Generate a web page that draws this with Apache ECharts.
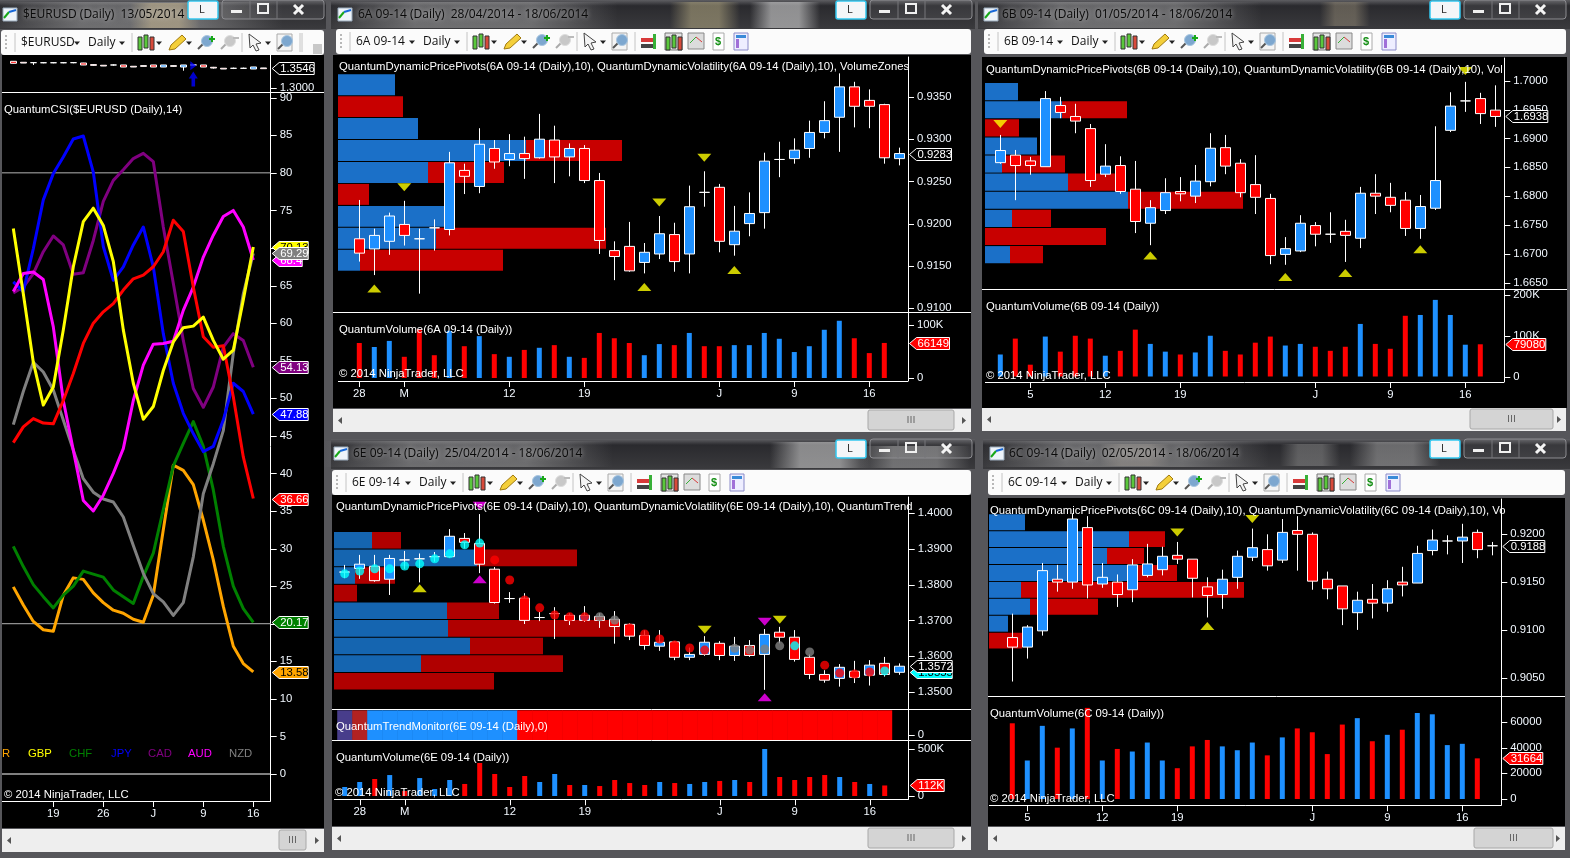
<!DOCTYPE html>
<html>
<head>
<meta charset="utf-8">
<title>NinjaTrader workspace</title>
<script src="https://cdn.jsdelivr.net/npm/echarts@6/dist/echarts.min.js"></script>
<style>
html,body{margin:0;padding:0;background:#000;overflow:hidden}
#main{width:1570px;height:858px}
</style>
</head>
<body>
<div id="main"></div>
<script>
// --- data. candles are [open, close, low, high], volumes in thousands ---
var csiTicks = [0,5,10,15,20,25,30,35,40,45,50,55,60,65,70,75,80,85,90];
var csiUSD = [44.1,46.2,47.3,46.7,46.6,49.7,53.3,57.3,60.0,61.5,62.6,64.4,65.9,66.4,67.5,69.5,73.7,72.2,64.8,58.2,56.8,57.0,50.2,42.2,36.66];
var csiEUR = [24.9,22.5,20.3,19.2,19.0,23.8,26.1,25.9,24.1,22.8,21.8,21.4,20.6,20.2,23.8,32.5,41.1,40.4,38.5,33.8,28.5,22.3,17.0,14.7,13.58];
var csiGBP = [72.6,63.9,54.8,49.1,51.5,59.1,67.5,73.5,75.3,73.0,68.2,59.1,52.0,47.2,48.9,53.7,57.5,59.4,59.6,60.8,57.7,55.2,56.4,63.1,70.13];
var csiCHF = [30.3,27.6,25.2,23.6,22.1,23.8,25.0,27.0,26.6,26.2,24.5,23.6,22.7,26.3,29.4,35.2,41.0,44.0,46.9,43.6,37.8,30.3,25.0,22.0,20.17];
var csiJPY = [65.5,64.2,69.9,76.4,79.9,82.1,84.5,84.9,80.1,70.2,65.7,67.5,70.4,72.8,67.5,58.6,52.0,48.0,45.3,42.9,43.6,47.1,52.0,50.9,47.88];
var csiCAD = [64.0,64.8,66.6,69.5,71.6,70.4,66.5,66.7,71.0,76.2,79.0,80.4,81.9,82.6,81.5,72.8,65.3,57.7,51.3,48.8,51.5,56.8,58.6,57.7,54.13];
var csiAUD = [64.2,66.6,66.8,65.8,59.5,49.7,43.1,36.4,35.0,37.1,40.0,43.3,49.7,54.4,57.2,57.3,57.6,61.7,64.8,68.8,71.7,74.2,75.0,72.8,68.4];
var csiNZD = [46.5,50.9,54.8,53.5,51.1,47.1,43.1,39.3,37.5,36.6,36.2,34.2,30.4,26.7,24.0,22.9,21.1,22.8,28.9,37.3,41.3,45.7,56.0,63.9,69.29];
var csiRefLines = [80,20];

var eurCandles = [[1.3740,1.3685,1.3680,1.3745],[1.3712,1.3692,1.3690,1.3714],[1.3702,1.3702,1.3640,1.3708],[1.3700,1.3700,1.3685,1.3712],[1.3700,1.3700,1.3685,1.3712],[1.3700,1.3700,1.3685,1.3716],[1.3702,1.3702,1.3685,1.3716],[1.3693,1.3638,1.3635,1.3696],[1.3648,1.3628,1.3615,1.3660],[1.3630,1.3610,1.3608,1.3632],[1.3638,1.3638,1.3620,1.3655],[1.3638,1.3582,1.3580,1.3640],[1.3602,1.3582,1.3580,1.3604],[1.3620,1.3600,1.3598,1.3622],[1.3638,1.3582,1.3580,1.3640],[1.3582,1.3638,1.3580,1.3640],[1.3620,1.3600,1.3590,1.3625],[1.3582,1.3638,1.3480,1.3640],[1.3638,1.3638,1.3625,1.3650],[1.3638,1.3582,1.3580,1.3640],[1.3574,1.3554,1.3540,1.3585],[1.3547,1.3527,1.3525,1.3549],[1.3546,1.3546,1.3525,1.3565],[1.3546,1.3546,1.3530,1.3565],[1.3527,1.3583,1.3525,1.3585],[1.3556,1.3536,1.3534,1.3558]];
var eurTicks = [1.30];
var eurTagValue = 1.3546;

var a6Candles = [[0.9182,0.9165,0.9155,0.9228],[0.9170,0.9186,0.9139,0.9194],[0.9179,0.9209,0.9163,0.9213],[0.9199,0.9186,0.9174,0.9227],[0.9182,0.9182,0.9117,0.9194],[0.9195,0.9195,0.9168,0.9205],[0.9193,0.9272,0.9186,0.9285],[0.9263,0.9256,0.9235,0.9271],[0.9244,0.9294,0.9236,0.9313],[0.9289,0.9273,0.9265,0.9299],[0.9276,0.9283,0.9268,0.9306],[0.9283,0.9277,0.9253,0.9303],[0.9278,0.9300,0.9277,0.9330],[0.9299,0.9279,0.9248,0.9316],[0.9279,0.9289,0.9256,0.9295],[0.9289,0.9251,0.9248,0.9293],[0.9251,0.9180,0.9164,0.9260],[0.9168,0.9161,0.9133,0.9179],[0.9173,0.9144,0.9143,0.9202],[0.9154,0.9166,0.9141,0.9177],[0.9164,0.9188,0.9158,0.9209],[0.9187,0.9155,0.9143,0.9201],[0.9164,0.9220,0.9141,0.9245],[0.9237,0.9237,0.9220,0.9262],[0.9243,0.9179,0.9166,0.9247],[0.9175,0.9191,0.9162,0.9221],[0.9200,0.9212,0.9185,0.9237],[0.9213,0.9274,0.9194,0.9284],[0.9276,0.9276,0.9255,0.9297],[0.9277,0.9287,0.9271,0.9301],[0.9289,0.9308,0.9278,0.9322],[0.9308,0.9322,0.9301,0.9345],[0.9326,0.9362,0.9285,0.9378],[0.9362,0.9339,0.9314,0.9368],[0.9346,0.9339,0.9313,0.9359],[0.9341,0.9278,0.9271,0.9342],[0.9277,0.9283,0.9269,0.9290]];
var a6Volume = [66,58.5,70,40,92,43,89,60,79,45,40,53,57,62,40,38,85,75,66,43,64,62,85,60,60,62,62,85,74,49,60,91,108,75,47,66.149];
var a6VolDirs = 'rbbrrrbrbr' + 'brbrbrrrrb' + 'brbrrbbbbb' + 'bbbrrr';
var a6XTicks = {0:'28',3:'M',10:'12',15:'19',24:'J',29:'9',34:'16'};
var a6PriceTicks = [0.91,0.915,0.92,0.925,0.93,0.935];
var a6VolTicks = [0,100];
var a6ZoneBlue = [57,0,80,188,90,0,107,98,22];
var a6ZoneRed = [0,65,0,96,76,31,0,170,143];
var a6PivotsUp = [[1,0.9123],[19,0.9125],[25,0.9145]];
var a6PivotsDown = [[3,0.9243],[20,0.9225],[23,0.9278]];

var b6Candles = [[1.6858,1.6879,1.6856,1.6906],[1.6871,1.6853,1.6793,1.6880],[1.6861,1.6853,1.6837,1.6868],[1.6851,1.6969,1.6851,1.6982],[1.6957,1.6945,1.6935,1.6972],[1.6938,1.6930,1.6909,1.6960],[1.6917,1.6827,1.6816,1.6925],[1.6838,1.6852,1.6833,1.6890],[1.6853,1.6808,1.6804,1.6869],[1.6812,1.6756,1.6736,1.6861],[1.6753,1.6780,1.6715,1.6793],[1.6775,1.6806,1.6769,1.6831],[1.6808,1.6804,1.6791,1.6833],[1.6800,1.6826,1.6788,1.6854],[1.6825,1.6883,1.6817,1.6909],[1.6884,1.6852,1.6838,1.6906],[1.6857,1.6806,1.6798,1.6864],[1.6820,1.6798,1.6769,1.6871],[1.6796,1.6697,1.6682,1.6804],[1.6699,1.6709,1.6681,1.6729],[1.6705,1.6753,1.6703,1.6767],[1.6749,1.6734,1.6713,1.6755],[1.6734,1.6734,1.6719,1.6772],[1.6739,1.6732,1.6686,1.6759],[1.6727,1.6805,1.6710,1.6816],[1.6805,1.6800,1.6769,1.6838],[1.6798,1.6784,1.6772,1.6823],[1.6793,1.6744,1.6731,1.6807],[1.6744,1.6782,1.6726,1.6802],[1.6779,1.6827,1.6776,1.6921],[1.6914,1.6956,1.6911,1.6980],[1.6965,1.6965,1.6946,1.6998],[1.6969,1.6943,1.6925,1.6979],[1.6949,1.6938,1.6920,1.6992]];
var b6Volume = [54,93,29,98,61,100,93,51,63,115,80,61,54,59,100,63,54,83,98,76,80,73,63,73,129,80,68,149,151,188,151,78,79.08];
var b6VolDirs = 'brrbrrrbrr' + 'bbrbbrrrrb' + 'brrrbrrrbb' + 'bbr';
var b6XTicks = {2:'5',7:'12',12:'19',21:'J',26:'9',31:'16'};
var b6PriceTicks = [1.665,1.67,1.675,1.68,1.685,1.69,1.695,1.70];
var b6VolTicks = [0,100,200];
var b6ZoneBlue = [33,77,0,52,17,83,143,27,0,25];
var b6ZoneRed = [0,65,34,0,63,52,115,39,121,33];
var b6PivotsUp = [[10,1.6697],[19,1.6660],[23,1.6667],[28,1.6708]];
var b6PivotsDown = [[0,1.6925],[31,1.7017]];

var e6Candles = [[1.3835,1.3835,1.3818,1.3855],[1.3845,1.3857,1.3816,1.3883],[1.3851,1.3811,1.3808,1.3883],[1.3815,1.3873,1.3771,1.3883],[1.3869,1.3869,1.3844,1.3894],[1.3872,1.3872,1.3806,1.3887],[1.3878,1.3878,1.3864,1.3891],[1.3878,1.3935,1.3875,1.3955],[1.3929,1.3918,1.3901,1.3944],[1.3915,1.3857,1.3832,1.3997],[1.3843,1.3750,1.3747,1.3849],[1.3761,1.3761,1.3749,1.3779],[1.3762,1.3700,1.3690,1.3776],[1.3708,1.3708,1.3698,1.3724],[1.3719,1.3719,1.3648,1.3737],[1.3714,1.3700,1.3687,1.3720],[1.3700,1.3714,1.3696,1.3740],[1.3711,1.3700,1.3679,1.3720],[1.3703,1.3683,1.3635,1.3726],[1.3689,1.3656,1.3645,1.3692],[1.3658,1.3630,1.3618,1.3672],[1.3628,1.3639,1.3615,1.3673],[1.3640,1.3597,1.3589,1.3642],[1.3597,1.3605,1.3589,1.3624],[1.3605,1.3639,1.3601,1.3656],[1.3636,1.3602,1.3589,1.3642],[1.3602,1.3628,1.3587,1.3654],[1.3630,1.3602,1.3598,1.3645],[1.3605,1.3661,1.3506,1.3676],[1.3667,1.3653,1.3636,1.3682],[1.3653,1.3591,1.3585,1.3673],[1.3597,1.3549,1.3536,1.3605],[1.3549,1.3533,1.3526,1.3561],[1.3538,1.3569,1.3515,1.3578],[1.3558,1.3541,1.3525,1.3587],[1.3547,1.3575,1.3518,1.3589],[1.3580,1.3549,1.3543,1.3598],[1.3555,1.3572,1.3548,1.3580]];
var e6Volume = [96,149,181,223,53,191,74,170,128,351,234,96,213,149,234,117,117,106,170,138,117,149,138,128,149,160,170,149,500,202,170,202,223,202,149,128,112];
var e6VolDirs = 'bbrbrbbbrr' + 'rrrbbrbrrr' + 'rbrbbrbrbr' + 'rrrbrbr';
var e6XTicks = {1:'28',4:'M',11:'12',16:'19',25:'J',30:'9',35:'16'};
var e6PriceTicks = [1.35,1.36,1.37,1.38,1.39,1.40];
var e6VolTicks = [0,500];
var e6ZoneBlue = [38,143,21,0,113,114,136,87,0];
var e6ZoneRed = [29,100,40,23,52,172,73,142,160];
var e6PivotsUp = [[5,1.3790]];
var e6PivotsDown = [[24,1.3674],[29,1.3702]];
var e6SwingUp = [[9,1.3815],[28,1.3485]];
var e6SwingDown = [[9,1.4020],[28,1.3696]];
var e6DotsCyan = [[0,1.3830],[1,1.3838],[2,1.3844],[3,1.3844],[4,1.3852],[5,1.3858],[6,1.3872],[7,1.3886],[8,1.3911],[9,1.3916],[30,1.3629],[36,1.3559]];
var e6DotsRed = [[10,1.3869],[11,1.3813],[12,1.3757],[13,1.3735],[14,1.3715],[15,1.3710],[16,1.3710],[19,1.3679],[20,1.3662],[21,1.3648],[22,1.3631],[23,1.3623],[24,1.3617],[32,1.3575],[33,1.3553],[34,1.3550],[35,1.3556]];
var e6DotsGray = [[17,1.3710],[18,1.3701],[26,1.3622],[27,1.3617],[28,1.3620],[29,1.3629],[31,1.3612]];
var e6Trend = 'pfbbbbbbbbbbrrrrrrrrrrrrrrrrrrrrrrrrr';

var c6Candles = [[0.9092,0.9082,0.9046,0.9117],[0.9082,0.9103,0.9070,0.9105],[0.9099,0.9162,0.9094,0.9170],[0.9153,0.9150,0.9140,0.9168],[0.9150,0.9216,0.9143,0.9222],[0.9207,0.9147,0.9133,0.9219],[0.9148,0.9155,0.9144,0.9170],[0.9150,0.9137,0.9124,0.9158],[0.9142,0.9168,0.9129,0.9174],[0.9157,0.9169,0.9155,0.9190],[0.9163,0.9177,0.9157,0.9187],[0.9178,0.9174,0.9169,0.9192],[0.9174,0.9154,0.9134,0.9174],[0.9145,0.9136,0.9113,0.9155],[0.9137,0.9153,0.9122,0.9163],[0.9155,0.9177,0.9143,0.9183],[0.9176,0.9186,0.9172,0.9206],[0.9184,0.9167,0.9162,0.9200],[0.9173,0.9202,0.9170,0.9216],[0.9204,0.9200,0.9162,0.9219],[0.9200,0.9151,0.9142,0.9202],[0.9153,0.9143,0.9132,0.9161],[0.9146,0.9122,0.9105,0.9146],[0.9118,0.9131,0.9100,0.9140],[0.9132,0.9128,0.9112,0.9148],[0.9128,0.9143,0.9119,0.9152],[0.9150,0.9147,0.9135,0.9166],[0.9149,0.9180,0.9149,0.9188],[0.9183,0.9194,0.9178,0.9205],[0.9193,0.9193,0.9179,0.9199],[0.9193,0.9197,0.9170,0.9211],[0.9202,0.9184,0.9175,0.9205],[0.9188,0.9188,0.9178,0.9192]];
var c6Volume = [59,30,57,40,55,71,30,39,37,44,30,24,41,46,41,38,44,34,48,55,52,35,58,63,45,50,54,67,66,42,43,31.664];
var c6VolDirs = 'rbbrbrbrbb' + 'brrrbbbrbr' + 'rrrbrbrbbb' + 'br';
var c6XTicks = {1:'5',6:'12',11:'19',20:'J',25:'9',30:'16'};
var c6PriceTicks = [0.905,0.91,0.915,0.92];
var c6VolTicks = [0,20,40,60];
var c6ZoneBlue = [36,140,118,140,32,41,19,0];
var c6ZoneRed = [0,36,37,48,223,68,0,33];
var c6PivotsUp = [[13,0.9104]];
var c6PivotsDown = [[11,0.9202],[16,0.9216]];

var FONT = '"Liberation Sans", Arial, sans-serif';
var UI_FONT = '"Open Sans", "Noto Sans", sans-serif';
var SIZE = 11.3;
var TEXT = '#f2f8ff';
var DIR_COLORS = {r:'#ff0000', b:'#1e90ff'};
var BAND = 15;

var grids = [], xAxes = [], yAxes = [], series = [], chrome = [], labels = [];

// ---------- axes ----------
function addGrid(left, top, width, height) {
	grids.push({left:left, top:top, width:width, height:height, show:false});
	return grids.length - 1;
}
function cats(n) {
	var out = [];
	for (var i = 0; i < n; i++) out.push(String(i));
	return out;
}
function catAxis(g, n, ticks) {
	var has = function(i) { return !!ticks && ticks[i] !== undefined; };
	xAxes.push({
		type:'category', gridIndex:g, data:cats(n), axisLine:{show:false}, axisTick:{show:false},
		axisLabel:{show:!!ticks, interval:has, margin:7, color:TEXT, fontSize:SIZE, fontFamily:FONT,
			formatter:function(v, i) { return ticks ? ticks[i] : ''; }},
		splitLine:{show:false}
	});
	if (ticks) xTickSeries(g, Object.keys(ticks).map(Number));
}
function valAxis(g, range, ticks, fmt, offset, axisX) {
	yAxes.push({
		type:'value', gridIndex:g, position:'right', offset:offset || 0, min:range.min, max:range.max,
		axisLine:{show:true, onZero:false, lineStyle:{color:'#fff', width:1}}, axisTick:{show:false},
		axisLabel:{show:!!ticks, customValues:ticks || [], margin:9, padding:[2,0,0,0], color:TEXT, fontSize:SIZE, fontFamily:FONT, formatter:fmt},
		splitLine:{show:false}
	});
	if (ticks) yTickSeries(g, ticks, axisX);
}
// tick marks go through the axis scales as small custom marks
function yTickSeries(g, ticks, axisX) {
	series.push({
		type:'custom', xAxisIndex:g, yAxisIndex:g, z:6, silent:true, clip:false,
		data:ticks.map(function(v) { return [0, v]; }), encode:{x:0, y:1},
		renderItem:function(params, api) {
			var y = Math.round(api.coord([0, api.value(1)])[1]) + 0.5;
			return {type:'line', shape:{x1:axisX, y1:y, x2:axisX + 6, y2:y}, style:{stroke:'#fff', lineWidth:1}};
		}
	});
}
function xTickSeries(g, indexes) {
	series.push({
		type:'custom', xAxisIndex:g, yAxisIndex:g, z:6, silent:true, clip:false,
		data:indexes.map(function(i) { return [i, 0]; }), encode:{x:0, y:1},
		renderItem:function(params, api) {
			var x = Math.round(api.coord([api.value(0), 0])[0]) + 0.5, y = params.coordSys.y + params.coordSys.height;
			return {type:'line', shape:{x1:x, y1:y, x2:x, y2:y + 6}, style:{stroke:'#fff', lineWidth:1}};
		}
	});
}
function hiddenAxes(g, xMax, range) {
	xAxes.push({type:'value', gridIndex:g, show:false, min:0, max:xMax, splitLine:{show:false}});
	yAxes.push({type:'value', gridIndex:g, show:false, min:range.min, max:range.max, splitLine:{show:false}});
}
// value range of a plot from two ticks whose pixel rows were measured
function rangeFrom(hi, lo, top, bottom) {
	var per = (hi[0] - lo[0]) / (lo[1] - hi[1]);
	return {max:hi[0] + (hi[1] - top) * per, min:lo[0] - (bottom - lo[1]) * per};
}

// ---------- series ----------
function candleSeries(g, data, width) {
	series.push({
		type:'candlestick', xAxisIndex:g, yAxisIndex:g, z:3, barWidth:width, silent:true, data:data,
		itemStyle:{color:'#1e90ff', color0:'#ff0000', borderColor:'#fff', borderColor0:'#fff', borderColorDoji:'#fff', borderWidth:1}
	});
}
function volumeSeries(g, values, dirs) {
	series.push({
		type:'bar', xAxisIndex:g, yAxisIndex:g, z:2, barWidth:5, silent:true,
		data:values.map(function(v, i) { return {value:v, itemStyle:{color:DIR_COLORS[dirs.charAt(i)]}}; })
	});
}
function zoneSeries(g, blue, red, top, step, colors) {
	var rows = [];
	blue.forEach(function(b, i) {
		var hi = top - i * step, lo = hi - step;
		if (b > 0) rows.push([0, b, hi, lo, 0]);
		if (red[i] > 0) rows.push([b, b + red[i], hi, lo, 1]);
	});
	series.push({
		type:'custom', xAxisIndex:g, yAxisIndex:g, z:1, silent:true, data:rows, encode:{x:[0,1], y:[2,3]},
		renderItem:function(params, api) {
			var a = api.coord([api.value(0), api.value(2)]), b = api.coord([api.value(1), api.value(3)]);
			return {type:'rect', shape:{x:a[0], y:a[1], width:b[0] - a[0], height:b[1] - a[1] - 1},
				style:{fill:colors[api.value(4)]}};
		}
	});
}
function markerSeries(g, points, color, rotate, size) {
	series.push({
		type:'scatter', xAxisIndex:g, yAxisIndex:g, z:5, silent:true, symbol:'triangle', symbolRotate:rotate,
		symbolSize:size || [14,8], data:points, itemStyle:{color:color}
	});
}
function dotSeries(g, points, color) {
	series.push({
		type:'scatter', xAxisIndex:g, yAxisIndex:g, z:4, silent:true, symbol:'circle', symbolSize:9,
		data:points, itemStyle:{color:color}
	});
}
function tagSeries(g, tags, axisX) {
	series.push({
		type:'custom', xAxisIndex:g, yAxisIndex:g, z:20, silent:true, clip:false,
		data:tags.map(function(t, i) { return [0, t.v, i]; }), encode:{x:0, y:1},
		renderItem:function(params, api) {
			var t = tags[api.value(2)], y = Math.round(api.coord([0, api.value(1)])[1]) + 0.5, x = axisX + 1.5, h = 12, w = t.w || 42;
			return {type:'group', children:[
				{type:'polygon', shape:{points:[[x,y],[x+7,y-h/2],[x+w,y-h/2],[x+w,y+h/2],[x+7,y+h/2]]},
					style:{fill:t.fill, stroke:'#fff', lineWidth:1}},
				{type:'text', style:{x:x + 8, y:y + 0.5, text:t.t, fill:t.color || '#fff', font:SIZE + 'px ' + FONT, verticalAlign:'middle'}}
			]};
		}
	});
}
function refLine(g, value, color) {
	series.push({
		type:'line', xAxisIndex:g, yAxisIndex:g, z:1, silent:true, symbol:'none', animation:false,
		data:[[0, value], [1, value]], lineStyle:{color:color, width:1}
	});
}
function csiLine(g, values, color) {
	series.push({
		type:'line', xAxisIndex:g, yAxisIndex:g, z:3, silent:true, symbol:'none', smooth:false,
		data:values, lineStyle:{color:color, width:3, join:'round'}
	});
}

// ---------- price panel with volume below ----------
function addPanel(p) {
	var width = p.n * BAND, off = p.axisX - (p.left + width);
	var price = rangeFrom(p.priceHi, p.priceLo, p.top, p.sep);
	var g = addGrid(p.left, p.top, width, p.sep - p.top);
	catAxis(g, p.n, null);
	valAxis(g, price, p.priceTicks, function(v) { return v.toFixed(4); }, off, p.axisX);
	candleSeries(g, p.candles, 10);
	tagSeries(g, p.priceTags, p.axisX);

	var z = addGrid(p.zoneLeft, p.top, p.axisX - p.zoneLeft, p.sep - p.top);
	hiddenAxes(z, p.axisX - p.zoneLeft, price);
	zoneSeries(z, p.zoneBlue, p.zoneRed, p.zoneTop, p.zoneStep, p.zoneColors);

	(p.up || []).forEach(function(m) { markerSeries(g, m[0], m[1], 0); });
	(p.down || []).forEach(function(m) { markerSeries(g, m[0], m[1], 180); });
	(p.dots || []).forEach(function(d) { dotSeries(g, d[0], d[1]); });

	var volTop = p.volTop || p.sep;
	var v = addGrid(p.left, volTop, width, p.bottom - volTop);
	catAxis(v, p.n, p.xTicks);
	valAxis(v, rangeFrom(p.volHi, p.volLo, volTop, p.bottom), p.volTicks, p.volFmt, off, p.axisX);
	volumeSeries(v, p.volume, p.volDirs);
	tagSeries(v, p.volTags, p.axisX);
	return {price:g, width:width, off:off};
}

// ---------- window chrome ----------
function rect(x, y, w, h, fill, extra) {
	var shape = {x:x, y:y, width:w, height:h};
	if (extra && extra.r) shape.r = extra.r;
	chrome.push({type:'rect', z:0, silent:true, shape:shape,
		style:{fill:fill, stroke:extra && extra.stroke, lineWidth:extra && extra.lw || 1}});
}
function seg(x1, y1, x2, y2, color, lw) {
	chrome.push({type:'line', z:0, silent:true, shape:{x1:x1, y1:y1, x2:x2, y2:y2}, style:{stroke:color, lineWidth:lw || 1}});
}
function poly(points, fill, stroke) {
	chrome.push({type:'polygon', z:0, silent:true, shape:{points:points}, style:{fill:fill, stroke:stroke, lineWidth:1}});
}
function txt(x, y, s, color, font, extra) {
	var style = {x:x, y:y, text:s, fill:color, font:font, verticalAlign:'middle'};
	for (var k in (extra || {})) style[k] = extra[k];
	chrome.push({type:'text', z:0, silent:true, style:style});
}
function label(x, y, s, color) {
	labels.push({type:'text', z:50, silent:true, style:{x:x, y:y, text:s, fill:color || '#fff', font:SIZE + 'px ' + FONT, verticalAlign:'middle'}});
}
function glass() {
	return new echarts.graphic.LinearGradient(0, 0, 0, 1, [{offset:0, color:'#5e5e62'}, {offset:0.2, color:'#2a2a2e'}, {offset:1, color:'#3a3a3d'}]);
}
// soft reflection of the desktop behind the glass
function spot(x, y, w, h, rgb, alpha) {
	var c = function(a) { return 'rgba(' + rgb + ',' + a + ')'; };
	rect(x, y, w, h, new echarts.graphic.LinearGradient(0, 0, 1, 0, [{offset:0, color:c(0)}, {offset:0.3, color:c(alpha)}, {offset:0.7, color:c(alpha)}, {offset:1, color:c(0)}]));
}
function caret(x, y) { poly([[x-3,y-1.5],[x+3,y-1.5],[x,y+2]], '#222'); }
function magnifier(x, y, plus, dim) {
	var c = dim ? '#c8c8c8' : '#7da7cf';
	seg(x+2, y+14, x+7, y+9, dim ? '#aaa' : '#555', 2);
	chrome.push({type:'circle', z:0, silent:true, shape:{cx:x+11, cy:y+6, r:5.5}, style:{fill:c, stroke:dim ? '#ddd' : '#a9c6e0'}});
	if (plus) { seg(x+16, y+1, x+16, y+7, '#18a818', 2); seg(x+13, y+4, x+19, y+4, '#18a818', 2); }
	else if (dim) seg(x+14, y+3, x+20, y+3, '#bbb', 2);
}
function candleIcon(x, y, a, b, c) {
	rect(x, y+2, 4, 13, a, {stroke:'#333'}); rect(x+6, y, 4, 13, b, {stroke:'#333'}); rect(x+12, y+2, 4, 13, c, {stroke:'#333'});
}
function toolbar(x, y, w, name, extras) {
	rect(x, y, w, 25, '#fbfbfb', {r:3});
	for (var i = 0; i < 4; i++) rect(x+4, y+5+i*4, 2, 2, '#b8b8b8');
	seg(x+14, y+3, x+14, y+22, '#c4c4c4');
	txt(x+20, y+13, name, '#111', '12px ' + UI_FONT);
	caret(x+76, y+13);
	txt(x+87, y+13, 'Daily', '#111', '12px ' + UI_FONT);
	caret(x+121, y+13);
	seg(x+131, y+3, x+131, y+22, '#c4c4c4');
	candleIcon(x+137, y+5, '#5ac83c', '#5ac83c', '#d84a3a');
	caret(x+158, y+13);
	poly([[x+168,y+20],[x+170,y+15],[x+181,y+5],[x+185,y+9],[x+174,y+19]], '#f4cf3a', '#a07a10');
	caret(x+188, y+13);
	magnifier(x+195, y+5, true);
	magnifier(x+218, y+5, false, true);
	seg(x+241, y+3, x+241, y+22, '#c4c4c4');
	poly([[x+248,y+4],[x+260,y+13],[x+255,y+14],[x+258,y+20],[x+255,y+21],[x+252,y+15],[x+249,y+18]], '#f4f4f4', '#444');
	caret(x+267, y+13);
	rect(x+276, y+4, 15, 17, '#f4f4f4', {stroke:'#aaa'});
	magnifier(x+275, y+5, false);
	seg(x+299, y+3, x+299, y+22, '#c4c4c4');
	if (!extras) return;
	rect(x+305, y+9, 12, 4, '#d83a3a'); rect(x+305, y+15, 12, 4, '#444'); rect(x+317, y+5, 3, 15, '#38b038');
	rect(x+329, y+4, 17, 17, '#e4e4e4', {stroke:'#777'}); candleIcon(x+330, y+6, '#5ac83c', '#5ac83c', '#d84a3a');
	rect(x+352, y+4, 16, 16, '#dcdcdc', {stroke:'#888'}); seg(x+354, y+14, x+360, y+8, '#38b038'); seg(x+360, y+8, x+366, y+13, '#d83a3a');
	rect(x+377, y+4, 11, 17, '#fff', {stroke:'#aaa'}); txt(x+379, y+13, '$', '#189018', 'bold 11px ' + FONT);
	rect(x+398, y+4, 14, 17, '#eef', {stroke:'#8a8ac8'}); rect(x+400, y+6, 10, 3, '#3a8ad8'); rect(x+400, y+10, 3, 9, '#a070d8');
}
function titleBar(top, right, iconX, textX, title) {
	spot(textX - 30, top + 2, 290, 26, '190,190,190', 0.4);
	rect(iconX, top+8, 14, 13, '#eef4fa', {stroke:'#9ab'});
	seg(iconX+1, top+18, iconX+6, top+12, '#18a818', 2); seg(iconX+6, top+12, iconX+13, top+10, '#1868d8', 2);
	txt(textX, top+15, title, '#0a0a0a', '12px ' + UI_FONT, {textShadowColor:'rgba(255,255,255,0.6)', textShadowBlur:5});
	rect(right-136, top+1, 30, 18, '#f4f6f8', {stroke:'#33c8f0', r:2, lw:1.5});
	txt(right-125, top+10, 'L', '#222', '11px ' + UI_FONT);
	rect(right-102, top, 102, 19, 'rgba(255,255,255,0.07)', {stroke:'#8c8c90', r:3});
	seg(right-74, top, right-74, top+19, '#77777a'); seg(right-47, top, right-47, top+19, '#77777a');
	rect(right-93, top+10, 11, 3, '#f0f0f0');
	rect(right-66, top+4, 10, 9, 'transparent', {stroke:'#f0f0f0', lw:2});
	seg(right-30, top+5, right-21, top+14, '#f4f4f4', 3); seg(right-30, top+14, right-21, top+5, '#f4f4f4', 3);
}
function scrollBar(left, right, y, thumbLeft, thumbRight) {
	var mid = thumbLeft + (thumbRight - thumbLeft) / 2;
	rect(left, y, right - left, 23, '#eeeeee');
	poly([[left+5,y+11.5],[left+9,y+8],[left+9,y+15]], '#555');
	rect(thumbLeft, y+1, thumbRight - thumbLeft, 20, '#d4d4d4', {stroke:'#a8a8a8', r:2});
	seg(mid-3, y+7, mid-3, y+14, '#666');
	seg(mid, y+7, mid, y+14, '#666');
	seg(mid+3, y+7, mid+3, y+14, '#666');
	poly([[right-5,y+11.5],[right-9,y+8],[right-9,y+15]], '#555');
}

// ---------- build ----------
rect(0, 0, 326, 29, glass());
rect(331, 0, 644, 29, glass());
rect(978, 0, 592, 29, glass());
rect(331, 439, 644, 30, glass());
rect(983, 439, 587, 30, glass());
[[130,3,70,25,'190,165,110',0.6],[670,2,70,26,'170,160,125',0.6],[750,2,70,26,'210,210,210',0.6],[1320,2,50,24,'150,140,120',0.5],[770,442,100,26,'200,200,200',0.6],[860,446,110,22,'170,170,170',0.5],[1100,444,70,22,'130,120,110',0.5],[1280,444,60,22,'140,140,140',0.5],[1350,442,90,24,'170,170,170',0.5]].forEach(function(s) {
	spot(s[0], s[1], s[2], s[3], s[4], s[5]);
});
titleBar(0, 324, 3, 23, '$EURUSD (Daily)  13/05/2014 - ');
titleBar(0, 972, 338, 358, '6A 09-14 (Daily)  28/04/2014 - 18/06/2014');
titleBar(0, 1566, 984, 1002, '6B 09-14 (Daily)  01/05/2014 - 18/06/2014');
titleBar(439, 972, 334, 353, '6E 09-14 (Daily)  25/04/2014 - 18/06/2014');
titleBar(439, 1566, 990, 1009, '6C 09-14 (Daily)  02/05/2014 - 18/06/2014');

toolbar(1, 30, 323, '$EURUSD', false);
seg(302, 33, 302, 52, '#c4c4c4');
rect(313, 44, 9, 10, '#c8c8c8');
toolbar(336, 29, 635, '6A 09-14', true);
toolbar(984, 29, 582, '6B 09-14', true);
toolbar(332, 470, 639, '6E 09-14', true);
toolbar(988, 470, 577, '6C 09-14', true);

rect(2, 55, 322, 773, '#000');
rect(333, 55, 638, 353, '#000');
rect(982, 57, 585, 351, '#000');
rect(332, 495, 639, 331, '#000');
rect(988, 498, 577, 328, '#000');

scrollBar(2, 324, 829, 279, 306);
scrollBar(333, 971, 409, 868, 954);
scrollBar(982, 1566, 408, 1470, 1553);
scrollBar(332, 971, 827, 868, 954);
scrollBar(988, 1565, 827, 1474, 1553);

var blackTag = function(v, t) { return {v:v, t:t, fill:'#000'}; };
var redTag = function(v, t, w) { return {v:v, t:t, fill:'#ff0000', w:w}; };
var kFmt = function(v) { return v === 0 ? '0' : v + 'K'; };

// 6A
addPanel({
	left:351.8, n:37, axisX:908, top:57, sep:312, bottom:381,
	candles:a6Candles, priceHi:[0.935,97], priceLo:[0.91,308], priceTicks:a6PriceTicks,
	priceTags:[blackTag(0.9283,'0.9283')],
	zoneLeft:338, zoneBlue:a6ZoneBlue, zoneRed:a6ZoneRed, zoneTop:0.9377, zoneStep:0.0026, zoneColors:['#1b70c8','#c80000'],
	up:[[a6PivotsUp,'#ffff00']], down:[[a6PivotsDown,'#ffff00']],
	volume:a6Volume, volDirs:a6VolDirs, volHi:[100,325], volLo:[0,378], volTicks:a6VolTicks, volFmt:kFmt,
	volTags:[redTag(66.149,'66149',40)], xTicks:a6XTicks
});
seg(333, 312.5, 971, 312.5, '#fff'); seg(338, 381.5, 908, 381.5, '#fff');
label(339, 67, 'QuantumDynamicPricePivots(6A 09-14 (Daily),10), QuantumDynamicVolatility(6A 09-14 (Daily),10), VolumeZones');
label(339, 330, 'QuantumVolume(6A 09-14 (Daily))');
label(339, 374, '\u00a9 2014 NinjaTrader, LLC');

// 6B
addPanel({
	left:992.8, n:34, axisX:1504.3, top:58, sep:289.3, bottom:382,
	candles:b6Candles, priceHi:[1.70,80.7], priceLo:[1.665,282.7], priceTicks:b6PriceTicks,
	priceTags:[blackTag(1.6938,'1.6938')],
	zoneLeft:985, zoneBlue:b6ZoneBlue, zoneRed:b6ZoneRed, zoneTop:1.6996, zoneStep:0.00314, zoneColors:['#1b70c8','#c80000'],
	up:[[b6PivotsUp,'#ffff00']], down:[[b6PivotsDown,'#ffff00']],
	volume:b6Volume, volDirs:b6VolDirs, volHi:[200,295], volLo:[0,376.5], volTicks:b6VolTicks, volFmt:kFmt,
	volTags:[redTag(79.08,'79080',40)], xTicks:b6XTicks
});
seg(982, 289.5, 1567, 289.5, '#fff'); seg(985, 382.5, 1504, 382.5, '#fff');
label(986, 70, 'QuantumDynamicPricePivots(6B 09-14 (Daily),10), QuantumDynamicVolatility(6B 09-14 (Daily),10), Vol');
label(986, 307, 'QuantumVolume(6B 09-14 (Daily))');
label(986, 376, '\u00a9 2014 NinjaTrader, LLC');

// 6E, has the trend monitor strip between price and volume
var e = addPanel({
	left:337.2, n:38, axisX:908.7, top:497, sep:709.3, volTop:740, bottom:799.3,
	candles:e6Candles, priceHi:[1.40,513], priceLo:[1.35,692], priceTicks:e6PriceTicks,
	priceTags:[{v:1.3555,t:'1.3555',fill:'#00ffff',color:'#000'}, blackTag(1.3572,'1.3572')],
	zoneLeft:334, zoneBlue:e6ZoneBlue, zoneRed:e6ZoneRed, zoneTop:1.3947, zoneStep:0.00492, zoneColors:['#1565b0','#b00000'],
	up:[[e6PivotsUp,'#ffff00'],[e6SwingUp,'#ff00ff']],
	down:[[e6PivotsDown,'#ffff00'],[e6SwingDown,'#ff00ff']],
	dots:[[e6DotsCyan,'#00ffff'],[e6DotsRed,'#ff0000'],[e6DotsGray,'#808080']],
	volume:e6Volume, volDirs:e6VolDirs, volHi:[500,749], volLo:[0,796], volTicks:e6VolTicks, volFmt:kFmt,
	volTags:[redTag(112,'112K',34)], xTicks:e6XTicks
});
var trendColors = {p:'#483d8b', f:'#b22222', b:'#1e90ff', r:'#ff0000'};
var trendGrid = addGrid(337.2, 709.3, e.width, 30.7);
var trendRange = rangeFrom([1,710.3], [0,734.7], 709.3, 740);
catAxis(trendGrid, 38, null);
valAxis(trendGrid, trendRange, [0], function() { return '0'; }, e.off, 908.7);
series.push({
	type:'custom', xAxisIndex:trendGrid, yAxisIndex:trendGrid, z:2, silent:true,
	data:e6Trend.split('').map(function(s, i) { return [i, 1]; }), encode:{x:0, y:1},
	renderItem:function(params, api) {
		var i = api.value(0), w = api.size([1,0])[0], a = api.coord([i, 1]), b = api.coord([i, trendRange.min]);
		var last = i === e6Trend.length - 1;
		return {type:'rect', shape:{x:a[0] - w/2, y:a[1], width:w + (last ? 0 : 0.6), height:b[1] - a[1]}, style:{fill:trendColors[e6Trend.charAt(i)]}};
	}
});
seg(332, 709.5, 971, 709.5, '#fff'); seg(332, 740.5, 971, 740.5, '#fff'); seg(334, 799.5, 908.7, 799.5, '#fff');
label(336, 507, 'QuantumDynamicPricePivots(6E 09-14 (Daily),10), QuantumDynamicVolatility(6E 09-14 (Daily),10), QuantumTrend');
label(336, 727, 'QuantumTrendMonitor(6E 09-14 (Daily),0)');
label(336, 758, 'QuantumVolume(6E 09-14 (Daily))');
label(335, 793, '\u00a9 2014 NinjaTrader, LLC');

// 6C
addPanel({
	left:1004.8, n:33, axisX:1501.3, top:499, sep:696.3, bottom:805.3,
	candles:c6Candles, priceHi:[0.92,534.3], priceLo:[0.905,677.7], priceTicks:c6PriceTicks,
	priceTags:[blackTag(0.9188,'0.9188')],
	zoneLeft:989, zoneBlue:c6ZoneBlue, zoneRed:c6ZoneRed, zoneTop:0.9221, zoneStep:0.00177, zoneColors:['#1b70c8','#c80000'],
	up:[[c6PivotsUp,'#ffff00']], down:[[c6PivotsDown,'#ffff00']],
	volume:c6Volume, volDirs:c6VolDirs, volHi:[60,722], volLo:[0,799], volTicks:c6VolTicks,
	volFmt:function(v) { return String(v * 1000); },
	volTags:[redTag(31.664,'31664',40)], xTicks:c6XTicks
});
seg(988, 696.5, 1565, 696.5, '#fff'); seg(989, 805.5, 1501.3, 805.5, '#fff');
label(990, 511, 'QuantumDynamicPricePivots(6C 09-14 (Daily),10), QuantumDynamicVolatility(6C 09-14 (Daily),10), Vo');
label(990, 714, 'QuantumVolume(6C 09-14 (Daily))');
label(990, 799, '\u00a9 2014 NinjaTrader, LLC');

// left window: small EURUSD strip above the currency strength lines
var EUR_N = 26, EUR_W = EUR_N * 10, EUR_LEFT = 8.3, CSI_AXIS = 270.7;
var mini = addGrid(EUR_LEFT, 55, EUR_W, 37.3);
var miniRange = rangeFrom([1.3546,68.3], [1.30,88], 55, 92.3);
catAxis(mini, EUR_N, null);
valAxis(mini, miniRange, eurTicks, function(v) { return v.toFixed(4); }, CSI_AXIS - EUR_LEFT - EUR_W, CSI_AXIS);
candleSeries(mini, eurCandles, 6);
tagSeries(mini, [blackTag(eurTagValue,'1.3546')], CSI_AXIS);
markerSeries(mini, [[18,1.362]], '#0000ff', -90, [9,6]);
series.push({type:'scatter', xAxisIndex:mini, yAxisIndex:mini, z:5, silent:true, symbol:'path://M5 0 L10 7 L7 7 L7 15 L3 15 L3 7 L0 7 Z', symbolSize:[9,15], data:[[18,1.325]], itemStyle:{color:'#0000ff'}});

var csiRange = rangeFrom([90,97.7], [0,774], 92.3, 801);
var csi = addGrid(EUR_LEFT, 92.3, EUR_W, 708.7);
catAxis(csi, EUR_N, {4:'19',9:'26',14:'J',19:'9',24:'16'});
valAxis(csi, csiRange, csiTicks, function(v) { return String(v); }, CSI_AXIS - EUR_LEFT - EUR_W, CSI_AXIS);
[[csiEUR,'#ffa500'],[csiCHF,'#008000'],[csiNZD,'#808080'],[csiCAD,'#800080'],[csiJPY,'#0000ff'],[csiAUD,'#ff00ff'],[csiUSD,'#ff0000'],[csiGBP,'#ffff00']].forEach(function(s) {
	csiLine(csi, s[0], s[1]);
});
tagSeries(csi, [
	{v:csiGBP[24], t:'70.13', fill:'#ffff00', color:'#000', w:36},
	{v:csiAUD[24], t:'68.4', fill:'#ff00ff', w:30},
	{v:csiNZD[24], t:'69.29', fill:'#808080', w:36},
	{v:csiCAD[24], t:'54.13', fill:'#800080', w:36},
	{v:csiJPY[24], t:'47.88', fill:'#0000ff', w:36},
	{v:csiUSD[24], t:'36.66', fill:'#ff0000', w:36},
	{v:csiCHF[24], t:'20.17', fill:'#008000', w:36},
	{v:csiEUR[24], t:'13.58', fill:'#ffa500', color:'#000', w:36}
], CSI_AXIS);
var ref = addGrid(2, 92.3, CSI_AXIS - 2, 708.7);
hiddenAxes(ref, 1, csiRange);
csiRefLines.forEach(function(v) { refLine(ref, v, '#b4b4b4'); });
refLine(ref, csiTicks[0], '#ffffff');
seg(2, 92.5, 324, 92.5, '#fff'); seg(2, 801.5, CSI_AXIS, 801.5, '#fff');
label(4, 110, 'QuantumCSI($EURUSD (Daily),14)');
label(4, 795, '\u00a9 2014 NinjaTrader, LLC');
[[2,'R','#ffa500'],[28,'GBP','#ffff00'],[69,'CHF','#008000'],[111,'JPY','#0000ff'],[148,'CAD','#800080'],[188,'AUD','#ff00ff'],[229,'NZD','#808080']].forEach(function(l) {
	label(l[0], 754, l[1], l[2]);
});

var chart = echarts.init(document.getElementById('main'), null, {renderer:'canvas'});
chart.setOption({
	animation:false,
	backgroundColor:'#56565a',
	tooltip:{show:false},
	legend:{show:false},
	graphic:{elements:chrome.concat(labels)},
	grid:grids,
	xAxis:xAxes,
	yAxis:yAxes,
	series:series
});
</script>
</body>
</html>
